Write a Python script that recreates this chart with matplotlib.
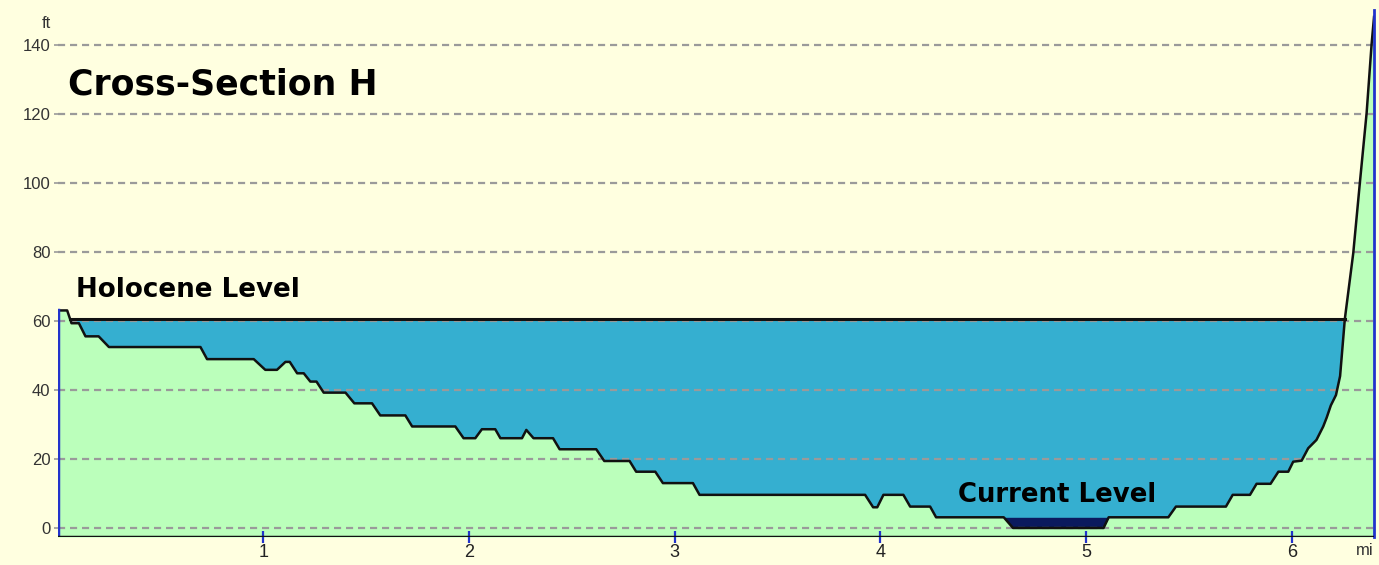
import numpy as np
import matplotlib.pyplot as plt

# ------------------------------
# data
# ------------------------------
dist = [0.0, 0.047, 0.068, 0.104, 0.136, 0.20, 0.25, 0.695, 0.727, 0.954,
        1.01, 1.067, 1.108, 1.129, 1.165, 1.197, 1.229, 1.259, 1.294, 1.40,
        1.443, 1.529, 1.569, 1.691, 1.724, 1.934, 1.974, 2.031, 2.063, 2.128,
        2.153, 2.258, 2.279, 2.314, 2.409, 2.441, 2.619, 2.658, 2.781, 2.813,
        2.906, 2.943, 3.089, 3.121, 3.926, 3.965, 3.985, 4.015, 4.112, 4.145,
        4.242, 4.271, 4.60, 4.645, 5.085, 5.11, 5.40, 5.437, 5.68, 5.713,
        5.797, 5.829, 5.897, 5.935, 5.983, 6.007, 6.048, 6.08, 6.12, 6.153,
        6.17, 6.19, 6.215, 6.235, 6.258, 6.299, 6.331, 6.364, 6.388, 6.40]
elev = [63, 63, 59.3, 59.3, 55.5, 55.5, 52.4, 52.4, 48.9, 48.9,
        45.8, 45.8, 48.1, 48.1, 44.8, 44.8, 42.4, 42.4, 39.2, 39.2,
        36.1, 36.1, 32.6, 32.6, 29.4, 29.4, 26.0, 26.0, 28.6, 28.6,
        26.0, 26.0, 28.4, 26.0, 26.0, 22.8, 22.8, 19.4, 19.4, 16.3,
        16.3, 13.0, 13.0, 9.6, 9.6, 6.0, 6.0, 9.6, 9.6, 6.2,
        6.2, 3.1, 3.1, 0.0, 0.0, 3.1, 3.1, 6.2, 6.2, 9.6,
        9.6, 12.8, 12.8, 16.3, 16.3, 19.2, 19.5, 23.1, 25.5, 29.4,
        32.0, 35.5, 38.5, 44.0, 60.5, 79.6, 99.9, 120.2, 140.0, 148.0]

holocene_level = 60.5
current_level = 3.1
yticks = [0, 20, 40, 60, 80, 100, 120, 140]
xticks = [1, 2, 3, 4, 5, 6]

dist = np.array(dist)
elev = np.array(elev)

BG = "#FFFFE0"
GREEN = "#BBFFBB"
BLUE = "#35AFD0"
NAVY = "#0B1A5E"

fig = plt.figure(figsize=(13.79, 5.65), dpi=100, facecolor=BG)
ax = fig.add_axes([0.0417, 0.0496, 0.9547, 0.9327])
ax.set_facecolor(BG)

ybot = -2.6
ytop = 150
ax.set_xlim(0, 6.40)
ax.set_ylim(ybot, ytop)

# terreng
ax.fill_between(dist, ybot, elev, color=GREEN, lw=0, zorder=1)

# holocene vann
ax.fill_between(dist, elev, holocene_level, where=elev <= holocene_level,
                interpolate=True, color=BLUE, lw=0, zorder=2)

# dagens vann
pool = elev <= current_level
ax.fill_between(dist, elev, current_level, where=pool, interpolate=True,
                color=NAVY, lw=0, zorder=3)

# rutenett
for yt in yticks:
    ax.axhline(yt, color="#9a9a9a", lw=1.6, ls=(0, (3.2, 2.2)), zorder=4)

ax.plot(dist, elev, color="#111111", lw=1.8, zorder=5)

# vannlinje
xl = np.interp(holocene_level, elev[:4][::-1], dist[:4][::-1])
xr = np.interp(holocene_level, elev[-8:], dist[-8:])
ax.plot([xl, xr], [holocene_level, holocene_level], color="#111111", lw=2.2, zorder=6)

# kanter
ax.plot([dist[0], dist[0]], [ybot, elev[0]], color="#2233cc", lw=2.5, zorder=7)
ax.plot([dist[-1], dist[-1]], [ybot, ytop], color="#2233cc", lw=2, zorder=7,
        clip_on=False)
ax.axhline(ybot, color="#111111", lw=2.5, zorder=7)

for s in ax.spines.values():
    s.set_visible(False)

ax.set_yticks(yticks)
ax.set_yticklabels([str(v) for v in yticks], fontsize=12, color="#333333",
                   family="Liberation Sans")
ax.tick_params(axis="y", length=3, width=1.2, color="#9a9a9a", pad=2)

ax.set_xticks(xticks)
ax.set_xticklabels([str(v) for v in xticks], fontsize=13, color="#222222",
                   family="Liberation Sans")
ax.tick_params(axis="x", direction="inout", length=8, width=1.6,
               color="#2233cc", pad=1)

ax.text(-0.053, 146, "ft", fontsize=12, color="#333333",
        family="Liberation Sans", ha="center", va="center", clip_on=False)
ax.text(6.355, -4.2, "mi", fontsize=12, color="#333333",
        family="Liberation Sans", ha="center", va="top")

ax.text(0.053, 125.5, "Cross-Section H", fontsize=25, fontweight="bold",
        family="DejaVu Sans", color="black", va="baseline", zorder=8)
ax.text(0.092, 67, "Holocene Level", fontsize=18.8, fontweight="bold",
        family="DejaVu Sans", color="black", va="baseline", zorder=8)
ax.text(4.378, 7.5, "Current Level", fontsize=18.7, fontweight="bold",
        family="DejaVu Sans", color="black", va="baseline", zorder=8)

fig.savefig("out.png", dpi=100, facecolor=BG)
